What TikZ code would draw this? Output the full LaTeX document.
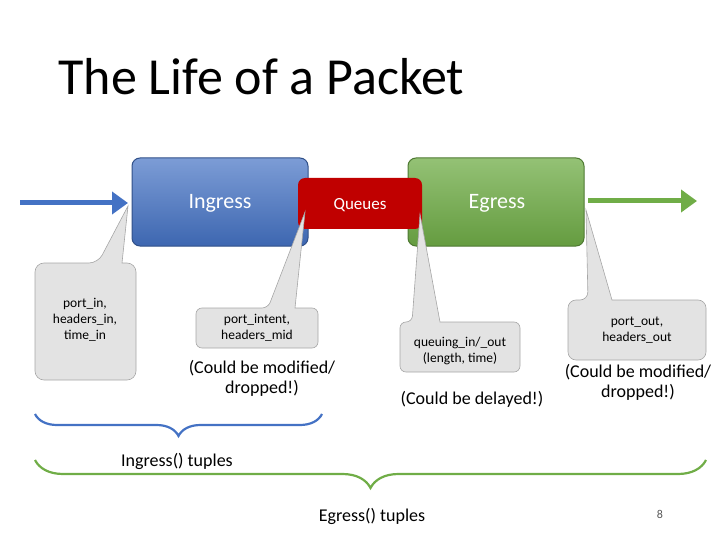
\documentclass[tikz,border=0pt]{standalone}
\usepackage{fontspec}
\setmainfont{Carlito}
\usetikzlibrary{decorations.pathreplacing,arrows.meta}
\definecolor{ingblue}{RGB}{68,114,196}
\definecolor{egrgreen}{RGB}{112,173,71}
\definecolor{qred}{RGB}{192,0,0}
\begin{document}
\begin{tikzpicture}[x=1pt,y=-1pt,
  stage/.style={rounded corners=8pt,draw=#1!70!black,line width=1pt},
  callout/.style={draw=gray!70,fill=gray!22,line width=0.6pt},
  ctext/.style={font=\fontsize{13.5}{16}\selectfont,align=center},
  note/.style={font=\fontsize{18}{20}\selectfont,align=center},
  brace/.style={decorate,decoration={brace,mirror,amplitude=#1},line width=2.2pt}]
\useasboundingbox (0,0) rectangle (720,540);
\node[anchor=base west,font=\fontsize{52}{56}\selectfont] (title) at (55,95) {The Life of a Packet};
% stages
\shade[stage=ingblue,top color=ingblue!70,bottom color=ingblue!90!black] (132,158) rectangle (308,246);
\shade[stage=egrgreen,top color=egrgreen!75,bottom color=egrgreen!90!black] (408,158) rectangle (584,246);
\fill[qred,rounded corners=7pt] (298,178) rectangle (422,229);
\node[text=white,font=\fontsize{22}{24}\selectfont] (ing) at (220,203) {Ingress};
\node[text=white,font=\fontsize{17}{19}\selectfont] (q) at (360,205) {Queues};
\node[text=white,font=\fontsize{22}{24}\selectfont] (egr) at (497,203) {Egress};
% arrows
\coordinate (ai) at (20,203); \coordinate (ao) at (128,203);
\draw[ingblue,line width=5pt,-{Triangle[length=16pt,width=22pt]}] (ai) -- (ao);
\coordinate (bi) at (588,201); \coordinate (bo) at (697,201);
\draw[egrgreen,line width=5pt,-{Triangle[length=16pt,width=22pt]}] (bi) -- (bo);
% callouts
\draw[callout,rounded corners=9pt] (35,263) -- (98,263) [sharp corners]-- (128,206) -- (122,263) [rounded corners=9pt]-- (136,263) -- (136,380) -- (35,380) -- cycle;
\node[ctext] (c1) at (85,320) {port\_in,\\headers\_in,\\time\_in};
\draw[callout,rounded corners=6pt] (196,308) -- (268,308) [sharp corners]-- (305,212) -- (295,308) [rounded corners=6pt]-- (318,308) -- (318,348) -- (196,348) -- cycle;
\node[ctext] (c2) at (257,328) {port\_intent,\\headers\_mid};
\draw[callout,rounded corners=6pt] (400,322) -- (412,322) [sharp corners]-- (420,214) -- (440,322) [rounded corners=6pt]-- (520,322) -- (520,372) -- (400,372) -- cycle;
\node[ctext] (c3) at (460,351) {queuing\_in/\_out\\(length, time)};
\draw[callout,rounded corners=8pt] (568,300) -- (588,300) [sharp corners]-- (586,210) -- (612,300) [rounded corners=8pt]-- (706,300) -- (706,360) -- (568,360) -- cycle;
\node[ctext] (c4) at (637,330) {port\_out,\\headers\_out};
% notes
\node[note] (n1) at (262,378) {(Could be modified/\\dropped!)};
\node[note] (n2) at (472,399) {(Could be delayed!)};
\node[note] (n3) at (638,382) {(Could be modified/\\dropped!)};
% braces
\coordinate (b1l) at (35,414); \coordinate (b1r) at (322,414);
\draw[brace=22pt,ingblue] (b1l) -- (b1r);
\coordinate (b2l) at (35,460); \coordinate (b2r) at (706,460);
\draw[brace=28pt,egrgreen] (b2l) -- (b2r);
\node[note] (t1) at (177,461) {Ingress() tuples};
\node[note] (t2) at (372,516) {Egress() tuples};
\node[font=\fontsize{12}{14}\selectfont,text=gray!70!black] (pg) at (660,514) {8};
\end{tikzpicture}
\end{document}
